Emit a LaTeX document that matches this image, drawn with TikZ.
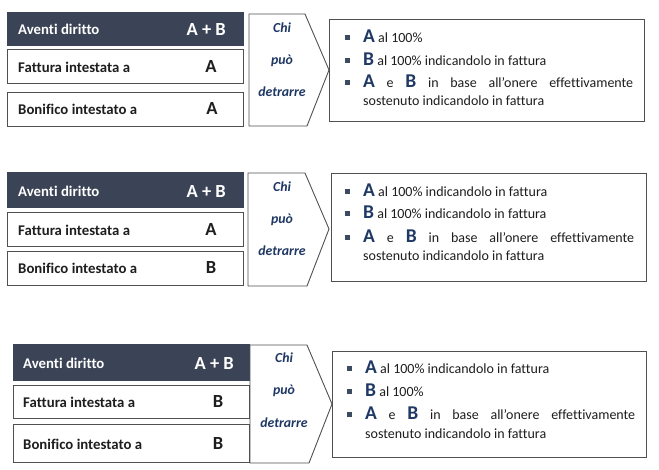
\documentclass[tikz,border=0pt]{standalone}
\usepackage{fontspec}
\setmainfont{Carlito}[Ligatures=NoCommon]
\definecolor{hdrc}{RGB}{59,68,86}
\definecolor{navy}{RGB}{31,56,100}
\definecolor{bordc}{RGB}{80,80,80}
\definecolor{txtc}{RGB}{30,30,30}
\definecolor{bulc}{RGB}{60,75,95}
\newcommand\Lett[1]{{\fontsize{19.5}{19}\selectfont\bfseries\color{navy}#1}}
\newcommand\rtxt{\fontsize{14}{16}\selectfont\color{txtc}}
\tikzset{
  box/.style={draw=bordc, line width=0.9pt, fill=white, anchor=north west, inner sep=0pt, minimum width=236pt},
  hdr/.style={fill=hdrc, draw=hdrc, anchor=north west, inner sep=0pt, minimum width=236pt},
  hdrtxt/.style={anchor=base west, inner sep=0pt, text=white, font=\fontsize{14.8}{16}\selectfont\bfseries},
  hdrab/.style={anchor=base east, inner sep=0pt, text=white, font=\fontsize{18.5}{19}\selectfont\bfseries},
  lbl/.style={anchor=base west, inner sep=0pt, text=txtc, font=\fontsize{14.8}{16}\selectfont\bfseries},
  let/.style={anchor=base, inner sep=0pt, text=txtc, font=\fontsize{18.5}{19}\selectfont\bfseries},
  chev/.style={draw=bordc, line width=0.9pt, fill=white, line join=miter},
  chtxt/.style={anchor=base, inner sep=0pt, text=navy, font=\fontsize{13.8}{15}\selectfont\bfseries\itshape},
  rbox/.style={draw=bordc, line width=0.9pt, fill=white, anchor=north west, inner sep=0pt},
  bul/.style={fill=bulc, inner sep=0pt, minimum size=5pt},
  rline/.style={anchor=base west, inner sep=0pt, font=\rtxt},
}
\begin{document}
\begin{tikzpicture}[x=1pt,y=-1pt]
\useasboundingbox[fill=white] (0,0) rectangle (659,469);

% ---------- Block 1 ----------
\node[hdr, minimum height=33pt] (h1) at (7,12) {};
\node[box, minimum height=34pt] (f1) at (7,49) {};
\node[box, minimum height=34pt] (b1) at (7,92) {};
\node[hdrtxt] (h1t) at (18,34) {Aventi diritto};
\node[hdrab] (h1ab) at (226,35) {A + B};
\node[lbl] (f1t) at (18,72) {Fattura intestata a};
\node[let] (f1l) at (211,72) {A};
\node[lbl] (b1t) at (18,114) {Bonifico intestato a};
\node[let] (b1l) at (212,114) {A};
\draw[chev] (249,14) -- (305,14) -- (329,70) -- (307,126) -- (249,126) -- cycle;
\node[chtxt] (c1a) at (282,32) {Chi};
\node[chtxt] (c1b) at (282,64) {può};
\node[chtxt] (c1c) at (282,96) {detrarre};
\node[rbox, minimum width=315pt, minimum height=102pt] (r1) at (329,19) {};
\node[bul] (r1b1) at (347,37) {};
\node[bul] (r1b2) at (347,60) {};
\node[bul] (r1b3) at (347,82) {};
\node[rline] (r1l1) at (363,42) {\Lett{A} al 100\%};
\node[rline] (r1l2) at (363,65) {\Lett{B} al 100\% indicandolo in fattura};
\node[rline] (r1l3) at (363,87) {\hbox to 270pt{\Lett{A}\hfill e\hfill\Lett{B}\hfill in\hfill base\hfill all’onere\hfill effettivamente}};
\node[rline] (r1l4) at (363,105) {sostenuto indicandolo in fattura};

% ---------- Block 2 ----------
\node[hdr, minimum height=35pt] (h2) at (7,172) {};
\node[box, minimum height=34pt] (f2) at (7,212) {};
\node[box, minimum height=34pt] (b2) at (7,251) {};
\node[hdrtxt] (h2t) at (18,196) {Aventi diritto};
\node[hdrab] (h2ab) at (226,197) {A + B};
\node[lbl] (f2t) at (18,235) {Fattura intestata a};
\node[let] (f2l) at (211,235) {A};
\node[lbl] (b2t) at (18,273) {Bonifico intestato a};
\node[let] (b2l) at (211,273) {B};
\draw[chev] (248,173) -- (305,173) -- (329,229) -- (307,286) -- (248,286) -- cycle;
\node[chtxt] (c2a) at (282,191) {Chi};
\node[chtxt] (c2b) at (282,223) {può};
\node[chtxt] (c2c) at (282,255) {detrarre};
\node[rbox, minimum width=315pt, minimum height=108pt] (r2) at (331,173) {};
\node[bul] (r2b1) at (347,191) {};
\node[bul] (r2b2) at (347,213) {};
\node[bul] (r2b3) at (347,237) {};
\node[rline] (r2l1) at (363,196) {\Lett{A} al 100\% indicandolo in fattura};
\node[rline] (r2l2) at (363,218) {\Lett{B} al 100\% indicandolo in fattura};
\node[rline] (r2l3) at (363,242) {\hbox to 271pt{\Lett{A}\hfill e\hfill\Lett{B}\hfill in\hfill base\hfill all’onere\hfill effettivamente}};
\node[rline] (r2l4) at (363,260) {sostenuto indicandolo in fattura};

% ---------- Block 3 ----------
\node[hdr, minimum height=36pt] (h3) at (13,344) {};
\node[box, minimum height=33pt] (f3) at (13,385) {};
\node[box, minimum height=38pt] (b3) at (13,424) {};
\node[hdrtxt] (h3t) at (23,368) {Aventi diritto};
\node[hdrab] (h3ab) at (234,369) {A + B};
\node[lbl] (f3t) at (23,407) {Fattura intestata a};
\node[let] (f3l) at (218,407) {B};
\node[lbl] (b3t) at (23,449) {Bonifico intestato a};
\node[let] (b3l) at (218,449) {B};
\draw[chev] (250,345) -- (307,345) -- (332,404) -- (309,463) -- (250,463) -- cycle;
\node[chtxt] (c3a) at (284,362) {Chi};
\node[chtxt] (c3b) at (284,394) {può};
\node[chtxt] (c3c) at (284,427) {detrarre};
\node[rbox, minimum width=314pt, minimum height=106pt] (r3) at (332,351) {};
\node[bul] (r3b1) at (349,368) {};
\node[bul] (r3b2) at (349,391) {};
\node[bul] (r3b3) at (349,414) {};
\node[rline] (r3l1) at (365,373) {\Lett{A} al 100\% indicandolo in fattura};
\node[rline] (r3l2) at (365,396) {\Lett{B} al 100\%};
\node[rline] (r3l3) at (365,419) {\hbox to 270pt{\Lett{A}\hfill e\hfill\Lett{B}\hfill in\hfill base\hfill all’onere\hfill effettivamente}};
\node[rline] (r3l4) at (365,438) {sostenuto indicandolo in fattura};
\end{tikzpicture}
\end{document}
